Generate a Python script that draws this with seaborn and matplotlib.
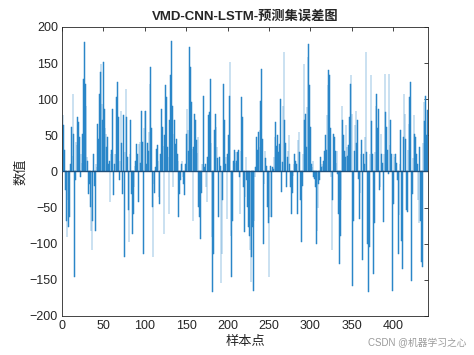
import numpy as np
import pandas as pd
import matplotlib
matplotlib.use('Agg')
import matplotlib.pyplot as plt
import seaborn as sns

# 预测集误差 (in four stretches of the sample axis)
err_part1 = [78, 64, 30, -26, -68, -91, -40, -77, -63, 10,
             61, 22, 107, 52, -146, -12, 41, 36, 75, 68,
             48, -8, 24, 12, 52, 128, 179, 121, 90, 20,
             15, -31, -18, -49, -82, -109, -68, 24, -20, -82,
             11, 6, 66, 45, 107, 137, 149, 94, 71, 151,
             87, 60, 52, 34, 48, 11, 15, -42, 24, 30,
             87, -33, 11, 24, 24, 103, 124, 75, -12, 15,
             84, 40, -31, 78, -119, 27, 114, 75, 20, -54,
             -98, 24, 71, -31, -86, -59, -22, 8, 15, 38,
             24, -42, 38, 41, 12, 84, 41, -114, 60, 84]
err_part2 = [84, 11, 40, 29, 54, 121, 144, 60, -49, -119,
             -17, -30, 6, 31, 36, 14, -36, -45, 24, 87,
             61, 35, -86, 50, 119, 103, 34, 20, -59, 71,
             133, 181, 90, -22, 52, 71, 38, 45, 24, 15,
             -63, -31, -12, 11, 15, -8, -17, -33, 10, 52,
             87, 57, 29, 172, 144, 96, 31, -68, 34, 80,
             71, 43, 25, 48, -49, -63, -93, -30, 11, 11,
             105, 6, 11, -22, -42, 20, 78, 82, 128, 40,
             -91, -167, -114, 57, 80, 61, 34, 18, -63, 20,
             8, -155, -114, -40, 121, 71, 11, 20, -66, 24,
             50, 105, 151, -90, -146, -68, 15, 30, 12]
err_part3 = [27, 15, 27, 30, -8, -59, 29, 103, 75, -22,
             -84, -35, 20, -12, -49, -77, -90, -109, -153, -119,
             -77, -165, -68, -8, 6, 48, 30, 54, 34, 57,
             98, 142, 45, -100, -17, 29, 18, 8, -49, -72,
             -146, -63, 8, -63, 6, 4, 20, 48, 68, 35,
             50, 27, 24, 38, 101, -29, 13, 91, 165, 71,
             40, -22, 20, 29, 50, 11, -22, -59, -30, -6,
             11, 24, 15, 10, -59, 43, 54, 27, -40, -98,
             -20, 24, 149, 71, 80, 34, 89, 158, 177, 120,
             61, 11, 6, 15, -8, -10, -22, -100, -82, -50,
             -17, -12, 20, 6, 11, 8]
err_part4 = [15, 29, 50, 30, 78, 119, 140, 133, 60, -8,
             -109, -40, 52, 48, 29, 12, 29, -3, -59, -128,
             -90, -40, 91, 71, 50, 29, 20, 64, 34, 22,
             36, 75, 121, 133, 80, -158, -68, 29, 64, 84,
             40, 71, -10, -66, -30, 24, 43, -123, 24, 10,
             48, 165, 27, -100, -167, -105, 24, 133, 70, 24,
             -142, -72, 27, 91, 107, 60, 87, -26, -22, 52,
             24, 12, -70, 24, 135, 82, 61, 30, -3, 135,
             36, 71, 24, -165, -45, 24, 20, 24, 12, -12,
             -114, -60, 11, 57, -96, -135, 48, 107, 80, 45,
             -54, -56, 30, 66, 103, 124, -151, -31, 18, 78,
             52, 48, 24, 10, -40, -72, 34, -68, -125, -132,
             40, 96, 70, 105, 50, 85]

errors = err_part1 + err_part2 + err_part3 + err_part4
xticks = [0, 50, 100, 150, 200, 250, 300, 350, 400]
yticks = [-200, -150, -100, -50, 0, 50, 100, 150, 200]

df = pd.DataFrame({'sample': np.arange(1, len(errors) + 1), 'error': errors})

sns.set_style('white')
plt.rcParams['font.family'] = ['Liberation Sans', 'Noto Sans CJK SC', 'DejaVu Sans']

fig = plt.figure(figsize=(4.74, 3.55), dpi=100)
ax = fig.add_axes([0.131, 0.110, 0.772, 0.814])

sns.barplot(data=df, x='sample', y='error', native_scale=True, color='#2a86c8',
            saturation=1, width=0.8, linewidth=0.35, edgecolor='#2a86c8', ax=ax)
ax.axhline(0, color='#1f4f7a', lw=1.0, zorder=3)

ax.set_xlim(0, len(errors) + 1)
ax.set_ylim(-200, 200)
ax.set_xticks(xticks)
ax.set_yticks(yticks)
ax.tick_params(direction='in', length=3, width=0.6, top=True, right=True,
               labelsize=9, colors='#262626', pad=3)
for s in ax.spines.values():
    s.set_color('#262626')
    s.set_linewidth(0.6)

ax.set_title('VMD-CNN-LSTM-预测集误差图', fontsize=9.5, fontweight='bold', pad=5,
             family=['Liberation Sans', 'Noto Sans CJK SC'])
ax.set_xlabel('样本点', fontsize=9.5, labelpad=2, family=['Noto Sans CJK SC'])
ax.set_ylabel('数值', fontsize=9.5, labelpad=2, family=['Noto Sans CJK SC'])

fig.text(0.985, 0.035, 'CSDN @机器学习之心', ha='right', va='center', fontsize=7,
         color='#9a9a9a', family=['Liberation Sans', 'Noto Sans CJK SC'])

fig.savefig('out.png', dpi=100, facecolor='white')
